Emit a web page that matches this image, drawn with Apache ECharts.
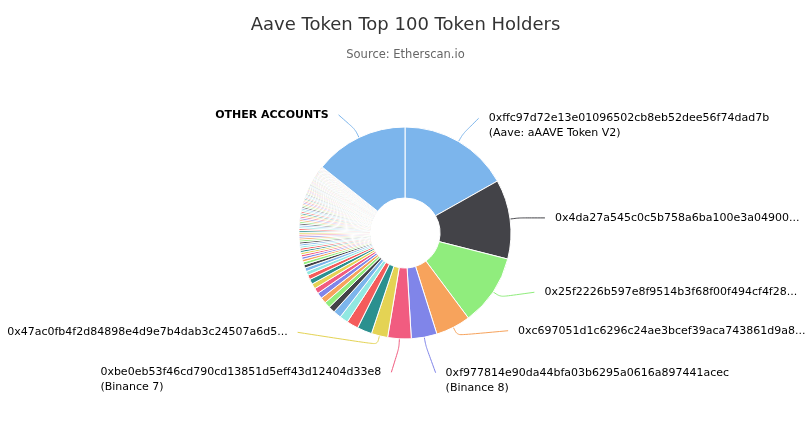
<!DOCTYPE html>
<html>
<head>
<meta charset="utf-8">
<script src="https://cdn.jsdelivr.net/npm/echarts@6/dist/echarts.min.js"></script>
<style>
html,body{margin:0;padding:0;background:#fff;}
#chart{width:811px;height:421px;}
</style>
</head>
<body>
<div id="chart"></div>
<script>
// Share of supply (%) held by the top 100 holders, in rank order, then all other accounts
const holderShares = [
  16.86, 12.11, 10.86, 5.33, 3.92, 3.58, 2.50, 2.25, 1.78, 1.31,
  1.20, 1.00, 0.92, 0.90, 0.88, 0.85, 0.80, 0.77, 0.70, 0.60,
  0.56, 0.50, 0.45, 0.40, 0.37, 0.35, 0.34, 0.33, 0.33, 0.32,
  0.31, 0.31, 0.30, 0.30, 0.29, 0.29, 0.29, 0.28, 0.28, 0.28,
  0.27, 0.27, 0.27, 0.26, 0.26, 0.26, 0.25, 0.25, 0.25, 0.24,
  0.24, 0.24, 0.23, 0.23, 0.22, 0.21, 0.20, 0.20, 0.19, 0.19,
  0.18, 0.18, 0.17, 0.17, 0.16, 0.16, 0.16, 0.15, 0.15, 0.15,
  0.14, 0.14, 0.14, 0.14, 0.13, 0.13, 0.13, 0.13, 0.12, 0.12,
  0.12, 0.12, 0.12, 0.11, 0.11, 0.11, 0.11, 0.11, 0.11, 0.10,
  0.10, 0.10, 0.10, 0.10, 0.10, 0.10, 0.09, 0.09, 0.09, 0.09
];
const otherShare = 14.30;

// Labels that are visible in the chart (top 7 holders)
const holderLabels = [
  '0xffc97d72e13e01096502cb8eb52dee56f74dad7b\n(Aave: aAAVE Token V2)',
  '0x4da27a545c0c5b758a6ba100e3a04900...',
  '0x25f2226b597e8f9514b3f68f00f494cf4f28...',
  '0xc697051d1c6296c24ae3bcef39aca743861d9a8...',
  '0xf977814e90da44bfa03b6295a0616a897441acec\n(Binance 8)',
  '0xbe0eb53f46cd790cd13851d5eff43d12404d33e8\n(Binance 7)',
  '0x47ac0fb4f2d84898e4d9e7b4dab3c24507a6d5...'
];
const otherLabel = 'OTHER ACCOUNTS';

const palette = ['#7cb5ec', '#434348', '#90ed7d', '#f7a35c', '#8085e9',
                 '#f15c80', '#e4d354', '#2b908f', '#f45b5b', '#91e8e1'];

const FONT = '"DejaVu Sans", Verdana, sans-serif';
const PIE_CENTER = [405, 233];

// Label placement tweaks (pixel offsets from ECharts' own label layout), by data index
const labelNudge = {
  0: [1, 5], 1: [9, 2], 2: [15, -13], 3: [24, -18],
  4: [0, 7], 5: [65, 17], 6: [-69, -55], 100: [-3, -1]
};

const data = holderShares.map((v, i) => {
  const lbl = holderLabels[i];
  return {
    name: lbl ? lbl : 'Holder ' + (i + 1),
    value: v,
    label: { show: !!lbl },
    labelLine: { show: !!lbl }
  };
});
data.push({
  name: otherLabel,
  value: otherShare,
  label: { show: true },
  labelLine: { show: true }
});
const otherIndex = data.length - 1;

const chart = echarts.init(document.getElementById('chart'), null, { renderer: 'canvas' });
chart.setOption({
  animation: false,
  color: palette,
  backgroundColor: '#ffffff',
  title: {
    text: 'Aave Token Top 100 Token Holders',
    subtext: 'Source: Etherscan.io',
    left: 'center',
    top: 11,
    itemGap: 15,
    textStyle: { fontFamily: FONT, fontSize: 18, fontWeight: 'normal', color: '#333333' },
    subtextStyle: { fontFamily: FONT, fontSize: 11.5, color: '#666666' }
  },
  series: [{
    type: 'pie',
    center: PIE_CENTER,
    radius: [35, 106],
    startAngle: 90,
    clockwise: true,
    avoidLabelOverlap: true,
    minShowLabelAngle: 0,
    itemStyle: { borderColor: '#ffffff', borderWidth: 1 },
    label: {
      show: true,
      position: 'outside',
      fontFamily: FONT,
      fontSize: 11,
      color: '#000000',
      lineHeight: 15,
      formatter: p => {
        const tag = p.dataIndex === otherIndex ? 'b' : 'a';
        return p.name.split('\n').map(s => '{' + tag + '|' + s + '}').join('\n');
      },
      rich: {
        a: { align: 'left', fontFamily: FONT, fontSize: 11, color: '#000000', lineHeight: 15 },
        b: { align: 'left', fontFamily: FONT, fontSize: 11, fontWeight: 'bold', color: '#000000', lineHeight: 15 }
      }
    },
    labelLine: { show: true, length: 24, length2: 12, smooth: 0.3, lineStyle: { width: 1 } },
    labelLayout: params => {
      const n = labelNudge[params.dataIndex];
      const pts = params.labelLinePoints;
      if (!n || !pts) return {};
      const [dx, dy] = n;
      const r = params.labelRect;
      const nLines = params.text.split('\n').length;
      const start = pts[0];
      const isLeft = pts[2][0] < pts[0][0];
      const vx = start[0] - PIE_CENTER[0], vy = start[1] - PIE_CENTER[1];
      const len = Math.hypot(vx, vy) || 1;
      const bend = [start[0] + vx / len * 9, start[1] + vy / len * 9];
      const endX = isLeft ? r.x + dx + r.width + 10 : r.x + dx - 10;
      const endY = r.y + dy + r.height / nLines / 2;
      return { dx: dx, dy: dy, labelLinePoints: [start, bend, [endX, endY]] };
    },
    emphasis: { disabled: true },
    data: data
  }]
});
</script>
</body>
</html>
